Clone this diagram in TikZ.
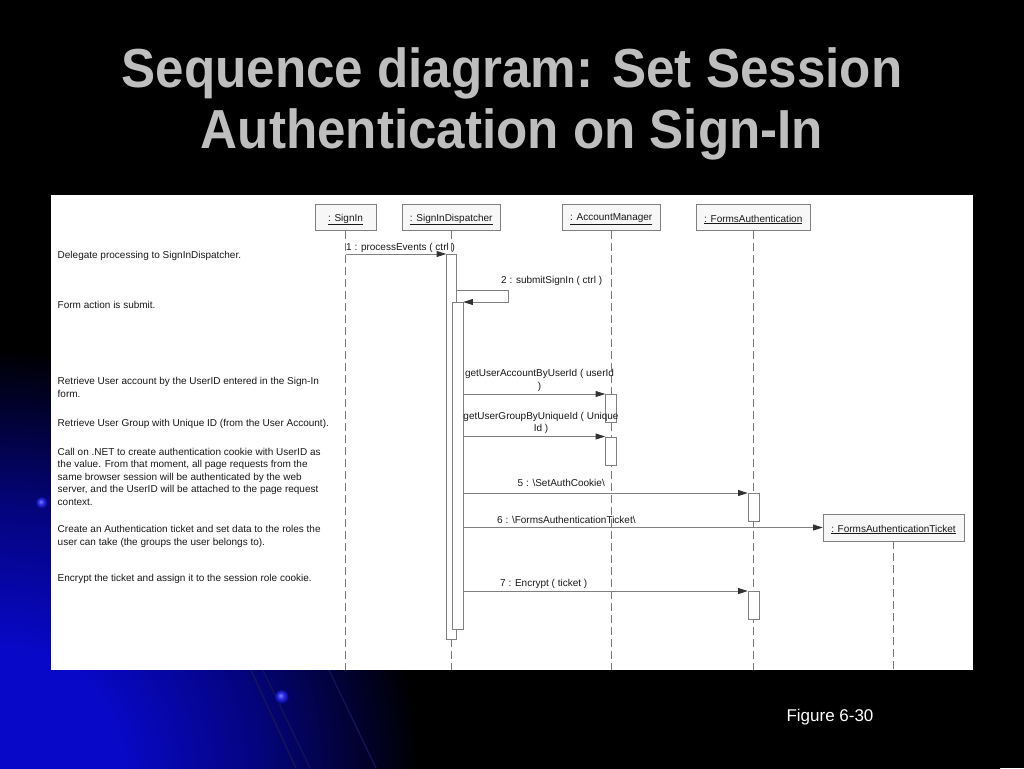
\documentclass[tikz,border=0pt]{standalone}
\usepackage{graphicx}
\usepackage{fontspec}
\setmainfont{Liberation Sans}
\usetikzlibrary{arrows.meta}
\definecolor{glowA}{RGB}{8,8,200}
\definecolor{glowB}{RGB}{4,4,125}
\definecolor{titlegray}{RGB}{190,190,190}
\definecolor{linegray}{RGB}{128,128,128}
\definecolor{lifegray}{RGB}{120,120,120}
\definecolor{tipcol}{RGB}{50,50,50}
\definecolor{headfill}{RGB}{247,247,247}
\definecolor{txtcol}{RGB}{25,25,25}
\definecolor{dotblue}{RGB}{40,40,230}
\definecolor{swoosh}{RGB}{20,20,90}
\pgfdeclareradialshading{bgglow}{\pgfpoint{0bp}{0bp}}{color(0bp)=(glowA); color(3bp)=(glowA); color(6.5bp)=(glowB); color(10.5bp)=(black); color(50bp)=(black)}
\pgfdeclareradialshading{dotglow}{\pgfpoint{-6bp}{6bp}}{color(0bp)=(dotblue!60!white); color(12bp)=(dotblue); color(25bp)=(glowB); color(50bp)=(glowB)}
\newcommand{\bsl}{\textbackslash}
\newcommand{\headtxt}[1]{\raisebox{-2pt}[\height][\depth]{\underline{#1}}}
\begin{document}
\begin{tikzpicture}[x=1pt,y=-1pt,
  titletxt/.style={anchor=base, inner sep=0pt, font=\bfseries\fontsize{55}{60}\selectfont, text=titlegray},
  figlabel/.style={anchor=base, inner sep=0pt, font=\fontsize{17}{20}\selectfont, text=white},
  note/.style={anchor=north west, inner sep=0pt, yshift=5.35pt, align=left, font=\fontsize{10}{12.5}\selectfont, text=txtcol},
  head/.style={draw=linegray, fill=headfill, line width=0.8pt, minimum height=26pt, inner sep=0pt, font=\fontsize{10}{12}\selectfont, text=txtcol},
  life/.style={draw=lifegray, line width=0.7pt, dash pattern=on 8pt off 4pt},
  actbar/.style={draw=linegray, fill=white, line width=0.8pt, anchor=north, inner sep=0pt},
  msg/.style={draw=linegray, line width=0.8pt, -{Triangle[length=9.5pt,width=6pt,color=tipcol,fill=tipcol]}},
  msglabel/.style={anchor=base west, inner sep=0pt, font=\fontsize{10}{12.5}\selectfont, text=txtcol},
  msglabeltwo/.style={anchor=north, inner sep=0pt, yshift=5.35pt, align=center, font=\fontsize{10}{12.5}\selectfont, text=txtcol}
]
\useasboundingbox (0,0) rectangle (1024,768);
\fill[black] (0,0) rectangle (1024,768);
\begin{scope}
  \clip (0,0) rectangle (1024,768);
  \shade[shading=bgglow] (0,768) circle (1000pt);
  \draw[swoosh, line width=1.5pt] (250,668) -- (296,768);
  \draw[swoosh, line width=1.2pt] (262,668) -- (310,768);
  \draw[swoosh, line width=1.2pt] (328,668) -- (376,768);
  \shade[shading=dotglow] (282,697) circle (7pt);
  \shade[shading=dotglow] (42,503) circle (6pt);
\end{scope}

% title
\node[titletxt] (t1) at (512,87) {\scalebox{0.93}[1]{Sequence diagram: Set Session}};
\node[titletxt] (t2) at (512,148) {\scalebox{0.93}[1]{Authentication on Sign-In}};
\node[figlabel] (fig) at (830,721) {Figure 6-30};

% panel
\fill[white] (51,195) rectangle (973,670);
\coordinate (bot) at (0,670);

% heads
\node[head, minimum width=61pt] (signin) at (345.5,217.5) {\headtxt{: SignIn}};
\node[head, minimum width=97.5pt] (disp) at (451.25,217.5) {\headtxt{: SignInDispatcher}};
\node[head, minimum width=97.5pt] (acct) at (611.25,217.5) {\headtxt{: AccountManager}};
\node[head, minimum width=114.5pt] (forms) at (753.25,217.5) {\headtxt{: FormsAuthentication}};
\node[head, minimum width=141pt, minimum height=27pt] (ticket) at (893.5,527.5) {\headtxt{: FormsAuthenticationTicket}};

% lifelines
\foreach \n in {signin,disp,acct,forms,ticket} \draw[life] (\n.south) -- (\n.south |- bot);

% activation bars
\node[actbar, minimum width=10pt, minimum height=385pt] (d1) at (451.5,254) {};
\node[actbar, minimum width=11pt, minimum height=327pt] (d2) at (457.5,302) {};
\node[actbar, minimum width=11pt, minimum height=28pt] (a1) at (611,394) {};
\node[actbar, minimum width=11pt, minimum height=28.5pt] (a2) at (611,436.5) {};
\node[actbar, minimum width=11.5pt, minimum height=28pt] (f1) at (753.75,493) {};
\node[actbar, minimum width=11.5pt, minimum height=28pt] (f2) at (753.75,591) {};

% messages
\draw[msg] (signin.south |- d1.north) -- (d1.north west);
\draw[msg] ([yshift=-36pt]d1.north east) -- ++(51.5,0) |- (d2.north east);
\draw[msg] (d2.east |- a1.north) -- (a1.north west);
\draw[msg] (d2.east |- a2.north) -- (a2.north west);
\draw[msg] (d2.east |- f1.north) -- (f1.north west);
\draw[msg] (d2.east |- ticket.west) -- (ticket.west);
\draw[msg] (d2.east |- f2.north) -- (f2.north west);

% message labels
\node[msglabel] (l1) at (346,250) {1 : processEvents ( ctrl )};
\node[msglabel] (l2) at (501,283.4) {2 : submitSignIn ( ctrl )};
\node[msglabeltwo] (l3) at (539.5,373) {\strut getUserAccountByUserId ( userId\\)};
\node[msglabeltwo] (l4) at (541,415.7) {\strut getUserGroupByUniqueId ( Unique\\Id )};
\node[msglabel] (l5) at (517.5,486.7) {5 : \bsl SetAuthCookie\bsl};
\node[msglabel] (l6) at (497,523.4) {6 : \bsl FormsAuthenticationTicket\bsl};
\node[msglabel] (l7) at (500,586) {7 : Encrypt ( ticket )};

% notes
\node[note] (n1) at (57.5,255) {\strut Delegate processing to SignInDispatcher.};
\node[note] (n2) at (57.5,304.5) {\strut Form action is submit.};
\node[note] (n3) at (57.5,381) {\strut Retrieve User account by the UserID entered in the Sign-In\\form.};
\node[note] (n4) at (57.5,423.3) {\strut Retrieve User Group with Unique ID (from the User Account).};
\node[note] (n5) at (57.5,451.7) {\strut Call on .NET to create authentication cookie with UserID as\\the value. From that moment, all page requests from the\\same browser session will be authenticated by the web\\server, and the UserID will be attached to the page request\\context.};
\node[note] (n6) at (57.5,529) {\strut Create an Authentication ticket and set data to the roles the\\user can take (the groups the user belongs to).};
\node[note] (n7) at (57.5,577.7) {\strut Encrypt the ticket and assign it to the session role cookie.};
\end{tikzpicture}
\end{document}
